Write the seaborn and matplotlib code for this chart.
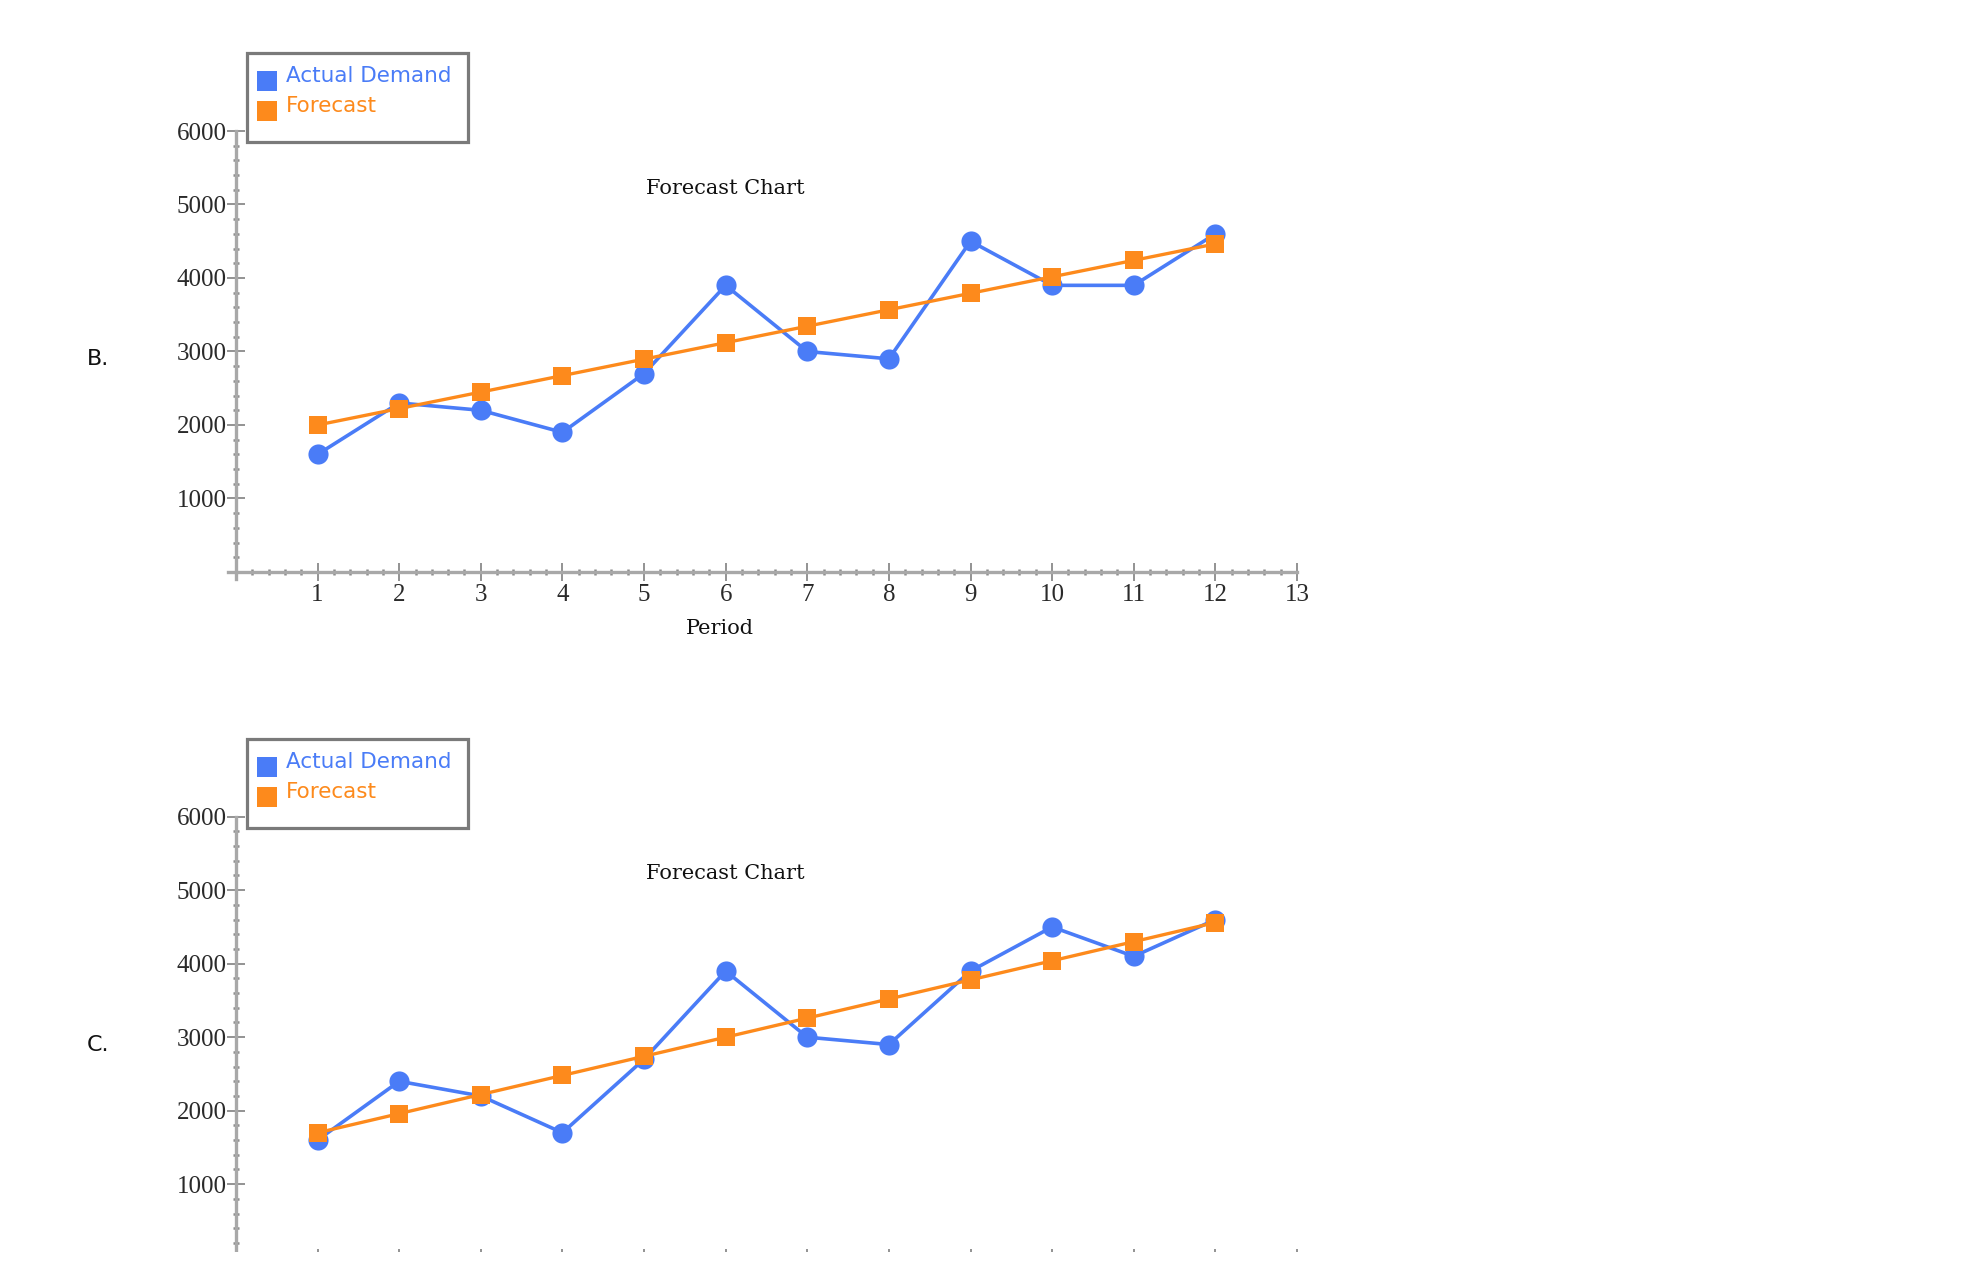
import matplotlib
matplotlib.use("Agg")
import matplotlib.pyplot as plt
from matplotlib.patches import Rectangle
from matplotlib.lines import Line2D
from matplotlib.ticker import MultipleLocator
import seaborn as sns

# Data
periods = [1, 2, 3, 4, 5, 6, 7, 8, 9, 10, 11, 12]
actual_b = [1600, 2300, 2200, 1900, 2700, 3900, 3000, 2900, 4500, 3900, 3900, 4600]
forecast_b = [2000, 2224, 2448, 2672, 2896, 3120, 3344, 3568, 3792, 4016, 4240, 4464]
actual_c = [1600, 2400, 2200, 1700, 2700, 3900, 3000, 2900, 3900, 4500, 4100, 4600]
forecast_c = [1700, 1960, 2220, 2480, 2740, 3000, 3260, 3520, 3780, 4040, 4300, 4560]
panel_labels = ["B.", "C."]
series_names = ["Actual Demand", "Forecast"]
y_ticks = [1000, 2000, 3000, 4000, 5000, 6000]
x_ticks = list(range(1, 14))

BLUE = "#4a7cf7"
ORANGE = "#fd8a1c"
AXIS_GREY = "#a8a8a8"
TICK_GREY = "#8a8a8a"

W, H = 1980, 1264
sns.set_style("white")
plt.rcParams["font.family"] = ["DejaVu Sans"]

fig = plt.figure(figsize=(W / 100, H / 100), dpi=100)


def fx(px):
    return px / W


def fy(py):
    return 1 - py / H


def draw_panel(actual, forecast, label, dy, show_x_labels=True):
    # axes box in pixels: x -0.1..13 -> 227.8..1297, y -90..6000 -> 578.6..131
    left, right = 227.8, 1297.0
    top, bottom = 131.0 + dy, 578.6 + dy
    ax = fig.add_axes([fx(left), fy(bottom), fx(right - left), (bottom - top) / H])
    ax.set_facecolor("none")

    sns.lineplot(x=periods, y=actual, ax=ax, color=BLUE, linewidth=2.6,
                 marker="o", markersize=14.5, markeredgewidth=0, zorder=3)
    sns.lineplot(x=periods, y=forecast, ax=ax, color=ORANGE, linewidth=2.4,
                 marker="s", markersize=13.5, markeredgewidth=0, zorder=4)

    ax.set_xlim(-0.1, 13.0)
    ax.set_ylim(-90, 6000)
    for side in ["top", "right"]:
        ax.spines[side].set_visible(False)
    for side in ["left", "bottom"]:
        ax.spines[side].set_position(("data", 0))
        ax.spines[side].set_color(AXIS_GREY)
        ax.spines[side].set_linewidth(2.4)

    ax.set_xticks(x_ticks)
    ax.set_yticks(y_ticks)
    ax.xaxis.set_minor_locator(MultipleLocator(0.2))
    ax.yaxis.set_minor_locator(MultipleLocator(200))
    ax.tick_params(which="both", bottom=True, left=True, top=False, right=False)
    ax.tick_params(which="major", direction="inout", length=13, width=1.3,
                   color=TICK_GREY, labelsize=18, labelcolor="#2a2a2a")
    ax.tick_params(which="minor", direction="inout", length=5, width=1.8,
                   color=TICK_GREY)
    ax.tick_params(axis="x", which="major", pad=2, labelbottom=show_x_labels)
    ax.tick_params(axis="y", which="major", pad=0)
    for t in ax.get_xticklabels() + ax.get_yticklabels():
        t.set_fontfamily("Liberation Serif")

    ax.set_xlabel("")
    ax.set_ylabel("")
    # axis title and chart title
    if show_x_labels:
        ax.text((720 - left) / (right - left), (bottom - (629 + dy)) / (bottom - top),
                "Period", transform=ax.transAxes, ha="center", va="center",
                fontsize=15, family="DejaVu Serif", color="#111111")
    ax.text((725 - left) / (right - left), (bottom - (188 + dy)) / (bottom - top),
            "Forecast Chart", transform=ax.transAxes, ha="center", va="center",
            fontsize=15, family="DejaVu Serif", color="#111111")

    # legend box drawn in figure pixels
    fig.patches.append(Rectangle((fx(247), fy(142 + dy)), fx(221), 89 / H,
                                 transform=fig.transFigure, facecolor="white",
                                 edgecolor="#7a7a7a", linewidth=2.3, zorder=5))
    for i, (name, col) in enumerate(zip(series_names, [BLUE, ORANGE])):
        yc = 81 + 30 * i + dy
        fig.lines.append(Line2D([fx(267)], [fy(yc)], transform=fig.transFigure,
                                marker="s", markersize=14, color=col,
                                markeredgewidth=0, linestyle="none", zorder=6))
        fig.text(fx(286), fy(yc - 5), name, color=col, fontsize=15.5,
                 ha="left", va="center", zorder=6)

    fig.text(fx(98), fy(359 + dy), label, fontsize=16, ha="center", va="center",
             color="#111111")
    return ax


draw_panel(actual_b, forecast_b, panel_labels[0], 0)
# the lower chart is cropped just above its x axis in the reference
draw_panel(actual_c, forecast_c, panel_labels[1], 685.7, show_x_labels=False)

fig.patches.append(Rectangle((0, 0), 1, 12 / H, transform=fig.transFigure,
                             facecolor="white", edgecolor="none", zorder=20))

fig.savefig("out.png", dpi=100)
